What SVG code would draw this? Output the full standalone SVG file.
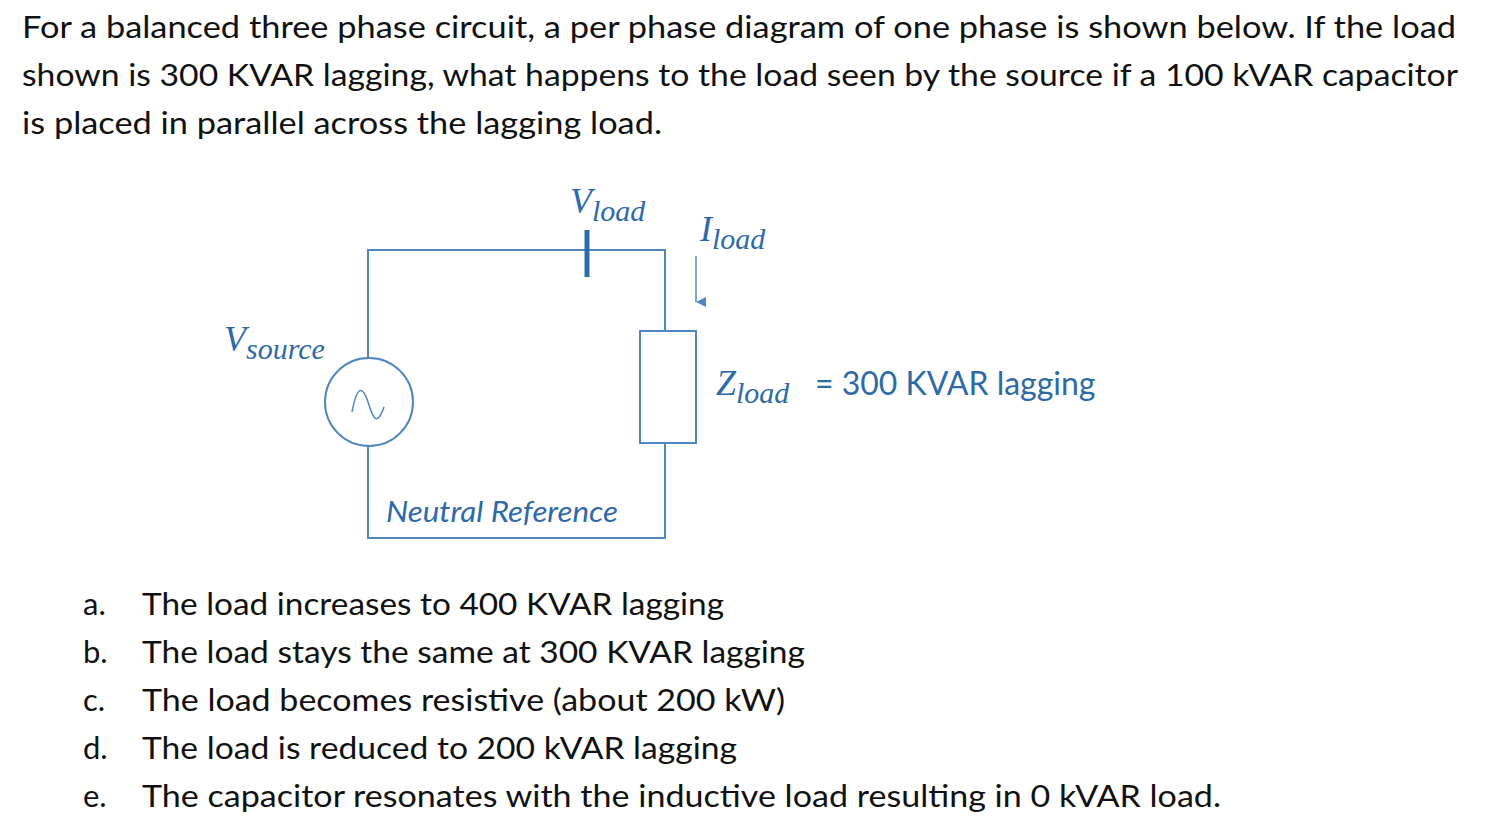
<svg xmlns="http://www.w3.org/2000/svg" width="1486" height="837" viewBox="0 0 1486 837">
<style>
.t{font-family:Lato,"Open Sans",sans-serif;font-size:31px;fill:#111}
.m{font-family:"Liberation Serif",serif;font-style:italic;fill:#2e6aa8}
.w{stroke:#4f86c0;stroke-width:2;fill:none}
.lbl{font-family:Lato,sans-serif;fill:#2e6aa8}
</style>
<defs><marker id="ah" viewBox="0 0 10 10" refX="5" refY="10" markerWidth="10" markerHeight="10" orient="auto-start-reverse" markerUnits="userSpaceOnUse"><path d="M0,0 L10,0 L5,10 z" fill="#4f86c0"/></marker></defs>
<rect width="1486" height="837" fill="#fff"/>
<text class="t" x="22" y="38" textLength="1434" lengthAdjust="spacingAndGlyphs">For a balanced three phase circuit, a per phase diagram of one phase is shown below. If the load</text>
<text class="t" x="22" y="86" textLength="1436" lengthAdjust="spacingAndGlyphs">shown is 300 KVAR lagging, what happens to the load seen by the source if a 100 kVAR capacitor</text>
<text class="t" x="22" y="134" textLength="640" lengthAdjust="spacingAndGlyphs">is placed in parallel across the lagging load.</text>
<g id="connectors">
<path class="w" d="M368,358 V250 H665 V331 M665,443 V538 H368 V446"/>
<line x1="696" y1="256" x2="696" y2="302" stroke="#4f86c0" stroke-width="1.5" marker-end="url(#ah)"/>
</g>
<g id="vload"><line x1="587" y1="230" x2="587" y2="277" stroke="#2e6aa8" stroke-width="5"/>
<text class="m" x="570" y="213" font-size="36">V<tspan font-size="30" dy="8">load</tspan></text></g>
<g id="iload"><text class="m" x="700" y="241" font-size="36">I<tspan font-size="30" dy="8">load</tspan></text></g>
<g id="source"><circle cx="369" cy="402" r="44" class="w" stroke-width="1.5"/>
<path d="M352,412 C358,380 364,390 368,402 C372,414 376,430 384,407" fill="none" stroke="#4f86c0" stroke-width="1.5"/>
<text class="m" x="224" y="351" font-size="36">V<tspan font-size="30" dy="8">source</tspan></text></g>
<g id="zload"><rect x="640" y="331" width="56" height="112" class="w" stroke-width="1.8"/>
<text class="m" x="716" y="395" font-size="36">Z<tspan font-size="30" dy="8">load</tspan></text>
<text class="lbl" x="815" y="395" font-size="32"> = 300 KVAR lagging</text></g>
<text class="lbl" x="386" y="522" font-size="28" font-style="italic" textLength="232" lengthAdjust="spacingAndGlyphs">Neutral Reference</text>
<g class="t">
<text class="t" x="83" y="615">a.</text><text class="t" x="142" y="615" textLength="582" lengthAdjust="spacingAndGlyphs">The load increases to 400 KVAR lagging</text>
<text class="t" x="83" y="663">b.</text><text class="t" x="142" y="663" textLength="663" lengthAdjust="spacingAndGlyphs">The load stays the same at 300 KVAR lagging</text>
<text class="t" x="83" y="711">c.</text><text class="t" x="142" y="711" textLength="643" lengthAdjust="spacingAndGlyphs">The load becomes resistive (about 200 kW)</text>
<text class="t" x="83" y="759">d.</text><text class="t" x="142" y="759" textLength="595" lengthAdjust="spacingAndGlyphs">The load is reduced to 200 kVAR lagging</text>
<text class="t" x="83" y="807">e.</text><text class="t" x="142" y="807" textLength="1079" lengthAdjust="spacingAndGlyphs">The capacitor resonates with the inductive load resulting in 0 kVAR load.</text>
</g>
</svg>
